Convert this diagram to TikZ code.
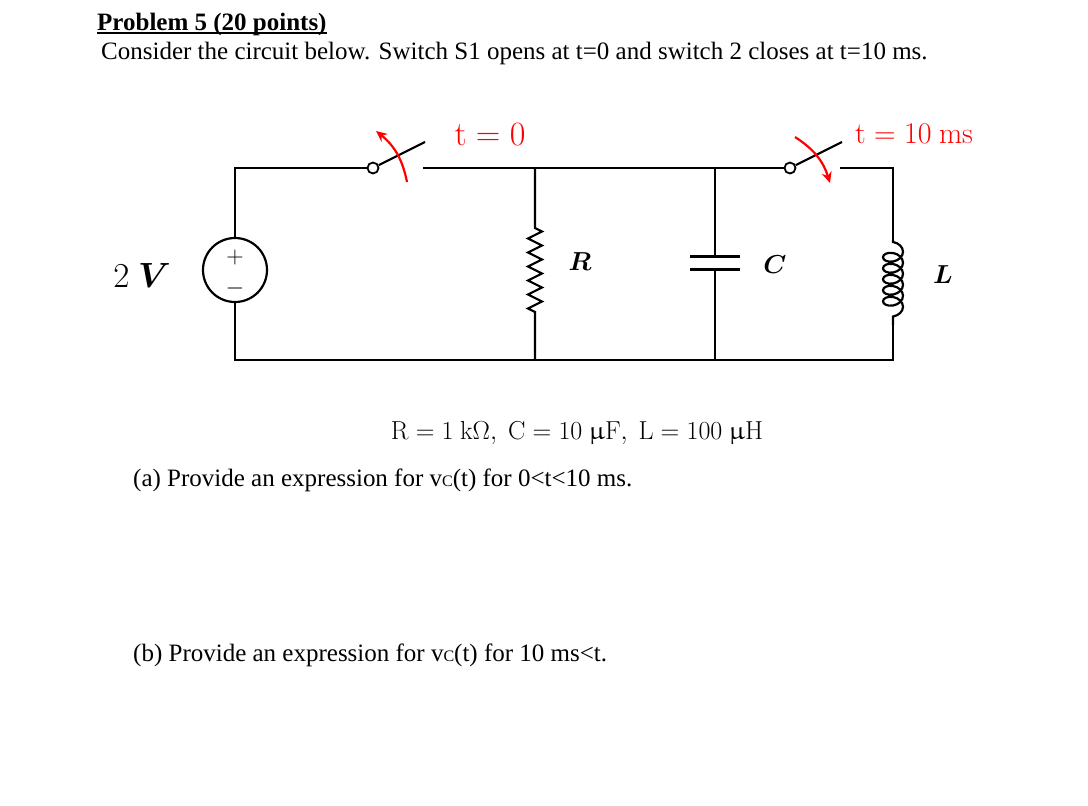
\RequirePackage{fix-cm}
\documentclass[tikz,border=0pt]{standalone}
\usepackage[no-math]{fontspec}
\setmainfont{Liberation Serif}
\usepackage{bm,upgreek}
\usetikzlibrary{decorations.pathmorphing,arrows.meta}
\begin{document}
\begin{tikzpicture}[x=1pt,y=-1pt,
  wire/.style={line width=2.2pt},
  sw/.style={red,line width=2.2pt,-{Stealth[length=11pt,width=10pt]}},
  txt/.style={anchor=base west,inner sep=0pt,font=\fontsize{25}{30}\selectfont},
  lab/.style={inner sep=0pt,font=\fontsize{26}{30}\selectfont}]
\useasboundingbox (0,0) rectangle (1088,806);
% text
\node[txt] (title) at (97,30) {\textbf{Problem 5 (20 points)}};
\draw[line width=1.4pt] (97,33) -- (327,33);
\node[txt] (intro) at (101,59) {Consider the circuit below. Switch S1 opens at t=0 and switch 2 closes at t=10 ms.};
\node[txt] (qa) at (133,486) {(a) Provide an expression for v{\fontsize{16}{18}\selectfont C}(t) for 0<t<10 ms.};
\node[txt] (qb) at (133,661) {(b) Provide an expression for v{\fontsize{16}{18}\selectfont C}(t) for 10 ms<t.};
\node[lab,anchor=base] (vals) at (577,439) {$\mathrm{R}=1\ \mathrm{k\Omega},\ \mathrm{C}=10\ \mathrm{\upmu F},\ \mathrm{L}=100\ \mathrm{\upmu H}$};
% coordinates
\coordinate (tl) at (235,168); \coordinate (bl) at (235,360);
\coordinate (br) at (893,360); \coordinate (tr) at (893,168);
\node[circle,draw,line width=2.2pt,minimum size=64pt,inner sep=0pt] (src) at (235,270) {};
\node[lab] at (235,257) {\fontsize{24}{24}\selectfont$+$};
\node[lab] at (235,288) {\fontsize{24}{24}\selectfont$-$};
\node[lab,font=\fontsize{35}{40}\selectfont] (vl) at (142,275) {$2\ \bm{V}$};
% wires
\draw[wire] (src.north) -- (tl) -- (368,168);
\node[circle,draw,line width=1.8pt,fill=white,minimum size=11pt,inner sep=0pt] (s1) at (373,168) {};
\draw[wire] (s1) -- (425,142);
\coordinate (s1r) at (423,168);
\draw[wire] (s1r) -- (785,168);
\node[circle,draw,line width=1.8pt,fill=white,minimum size=11pt,inner sep=0pt] (s2) at (790,168) {};
\draw[wire] (s2) -- (842,142);
\coordinate (s2r) at (840,168);
\draw[wire] (s2r) -- (tr) -- (893,240);
\draw[wire] (src.south) -- (bl) -- (br) -- (893,325);
% switch arrows
\draw[sw] (407,182) to[bend right=20] (376,131);
\draw[sw] (795,137) to[bend left=20] (830,183);
\node[lab,red,anchor=base,font=\fontsize{34}{38}\selectfont] (t0) at (490,145) {$\mathrm{t}=0$};
\node[lab,red,anchor=base west,font=\fontsize{30}{34}\selectfont] (t10) at (855,143) {$\mathrm{t}=10\ \mathrm{ms}$};
% resistor
\draw[wire] (535,168) -- (535,228)
  decorate[decoration={zigzag,amplitude=7pt,segment length=14pt}]{-- (535,312)} -- (535,360);
\node[lab] (rl) at (580,262) {$\bm{R}$};
% capacitor
\draw[wire] (715,168) -- (715,256);
\draw[line width=3pt] (690,256) -- (740,256);
\draw[line width=3pt] (690,269) -- (740,269);
\draw[wire] (715,269) -- (715,360);
\node[lab] (cl) at (775,265) {$\bm{C}$};
% inductor
\draw[wire,decorate,decoration={coil,aspect=0.7,amplitude=10pt,segment length=11pt,pre length=2pt,post length=2pt}] (893,240) -- (893,325);
\node[lab] (ll) at (943,275) {$\bm{L}$};
\end{tikzpicture}
\end{document}
